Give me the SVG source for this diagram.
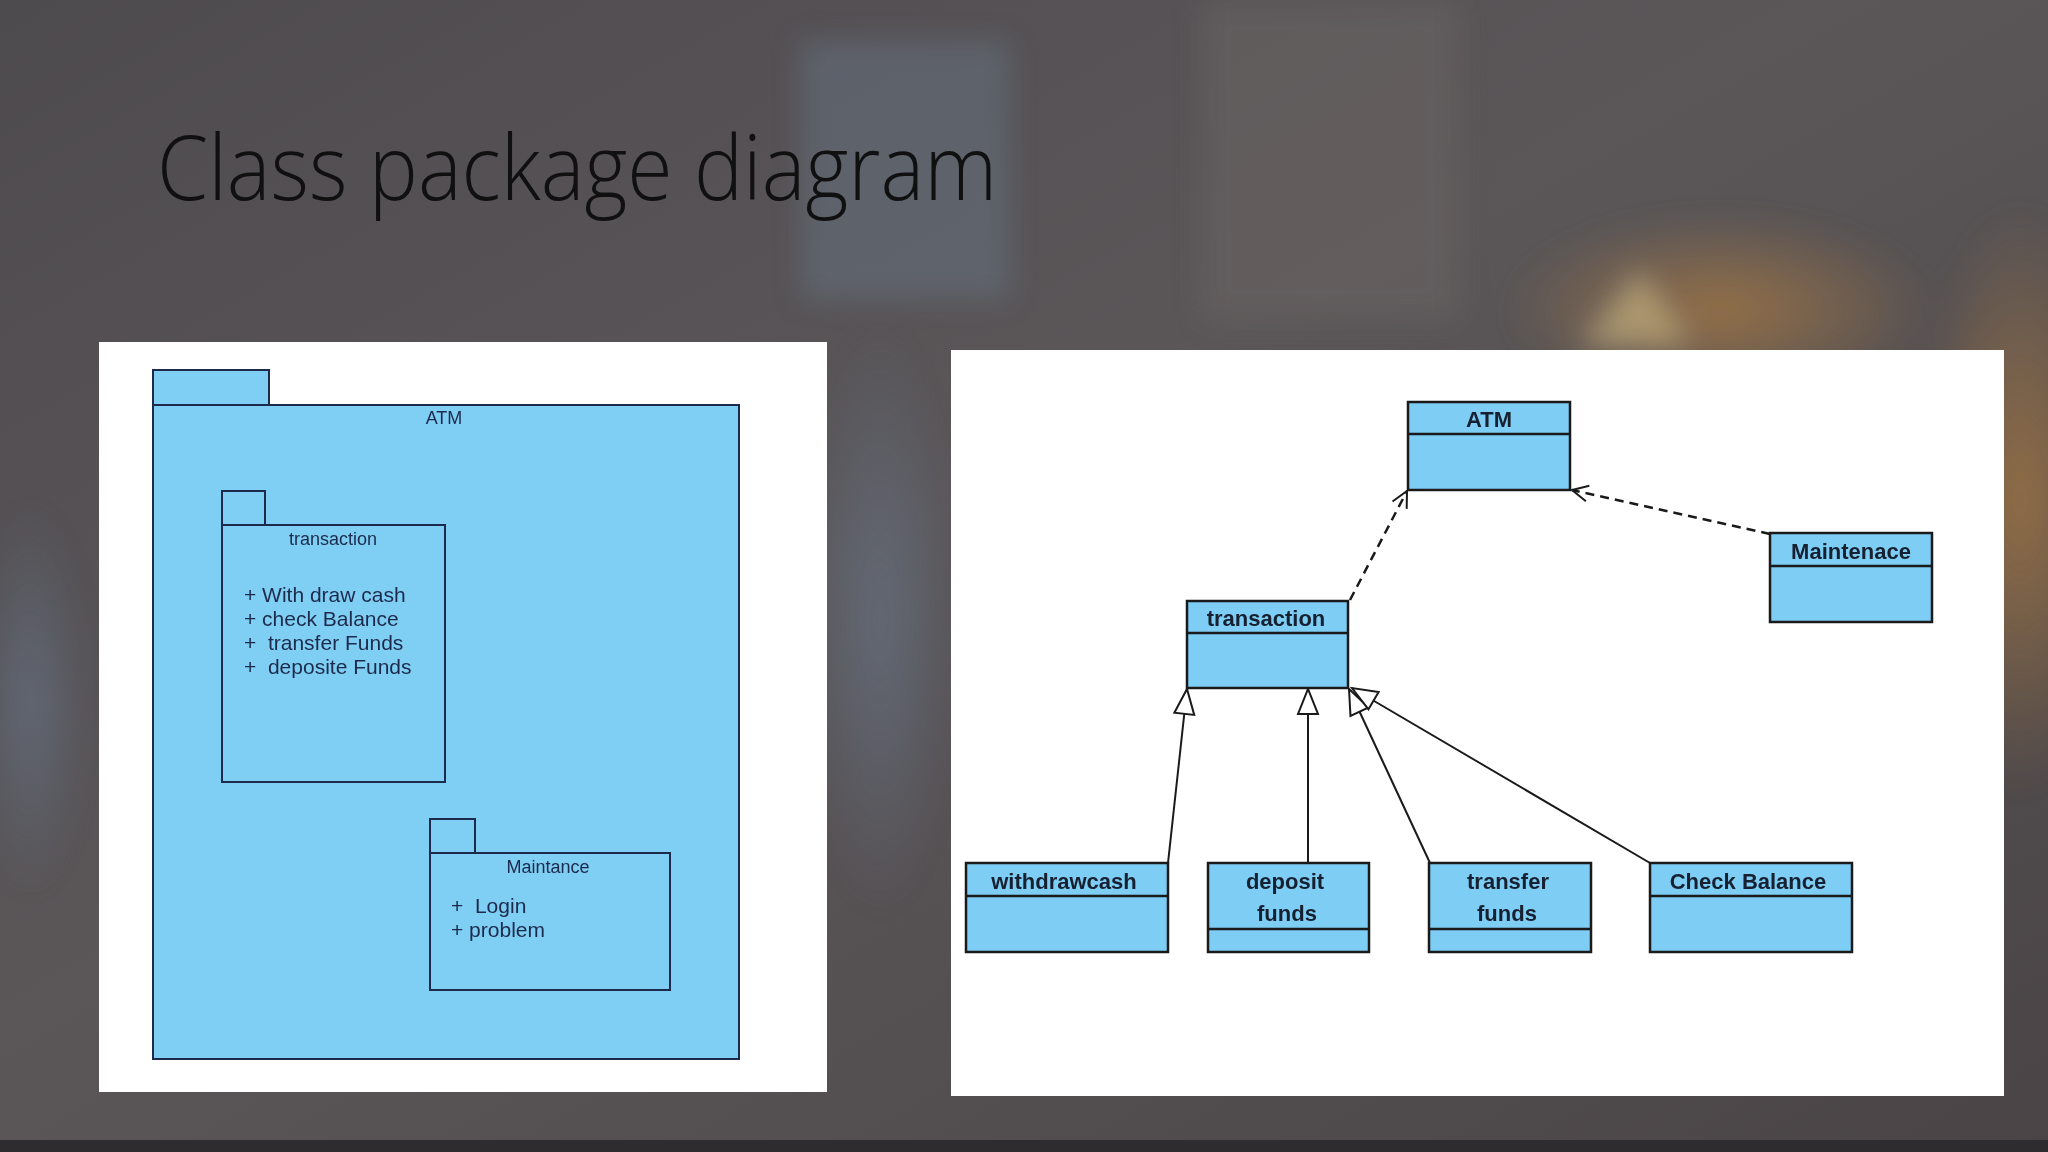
<svg xmlns="http://www.w3.org/2000/svg" width="2048" height="1152" viewBox="0 0 2048 1152">
<defs>
<linearGradient id="bg" x1="0" y1="0" x2="1" y2="1">
<stop offset="0" stop-color="#4e4b4f"/>
<stop offset="0.45" stop-color="#5b5759"/>
<stop offset="1" stop-color="#4a4446"/>
</linearGradient>
<radialGradient id="glowO" cx="0.5" cy="0.5" r="0.5">
<stop offset="0" stop-color="#c8893e" stop-opacity="0.6"/>
<stop offset="1" stop-color="#c8893e" stop-opacity="0"/>
</radialGradient>
<radialGradient id="glowB" cx="0.5" cy="0.5" r="0.5">
<stop offset="0" stop-color="#6a7a90" stop-opacity="0.6"/>
<stop offset="1" stop-color="#6a7a90" stop-opacity="0"/>
</radialGradient>
<filter id="blur" x="-20%" y="-20%" width="140%" height="140%"><feGaussianBlur stdDeviation="14"/></filter>
<marker id="open" markerUnits="userSpaceOnUse" markerWidth="20" markerHeight="20" refX="16" refY="8" orient="auto" overflow="visible">
<path d="M0,0 L16,8 L0,16" fill="none" stroke="#1a1a1a" stroke-width="2"/>
</marker>
<marker id="tri" markerUnits="userSpaceOnUse" markerWidth="28" markerHeight="24" refX="26" refY="11" orient="auto" overflow="visible">
<path d="M1,1 L26,11 L1,21 Z" fill="#ffffff" stroke="#1a1a1a" stroke-width="2"/>
</marker>
<style>
.pkg{fill:#7ecff3;stroke:#1d2a4c;stroke-width:2}
.ptxt{font-family:"Liberation Sans",Arial,sans-serif;font-size:18px;fill:#1d2a4c}
.itxt{font-family:"Liberation Sans",Arial,sans-serif;font-size:21px;fill:#1d2a4c}
.cls{fill:#7dcdf4;stroke:#1a1a1a;stroke-width:2.5}
.div{stroke:#1a1a1a;stroke-width:2.5}
.ctxt{font-family:"Liberation Sans",Arial,sans-serif;font-size:22px;font-weight:bold;fill:#172030;text-anchor:middle}
.dash{stroke:#1a1a1a;stroke-width:2.5;stroke-dasharray:9,6;fill:none;marker-end:url(#open)}
.gen{stroke:#1a1a1a;stroke-width:2;fill:none;marker-end:url(#tri)}
</style>
</defs>

<!-- background -->
<rect x="0" y="0" width="2048" height="1152" fill="url(#bg)"/>
<g filter="url(#blur)" opacity="0.9">
<rect x="800" y="40" width="210" height="260" fill="#66727f" opacity="0.6"/>
<rect x="1200" y="0" width="260" height="320" fill="#6a6264" opacity="0.6"/>
<ellipse cx="1720" cy="310" rx="220" ry="100" fill="url(#glowO)"/>
<ellipse cx="2020" cy="500" rx="110" ry="300" fill="url(#glowO)"/>
<ellipse cx="880" cy="620" rx="80" ry="300" fill="url(#glowB)"/>
<ellipse cx="30" cy="700" rx="60" ry="200" fill="url(#glowB)"/>
<path d="M1580,345 L1640,270 L1690,345 Z" fill="#d8c48a" opacity="0.6"/>
</g>
<rect x="0" y="1140" width="2048" height="12" fill="#2e2c2e"/>

<text x="157" y="200" font-family="'Open Sans','Noto Sans',sans-serif" font-weight="300" font-size="90" fill="#101010" textLength="840" lengthAdjust="spacingAndGlyphs">Class package diagram</text>

<!-- left panel -->
<rect x="99" y="342" width="728" height="750" fill="#ffffff"/>
<g id="pkg-atm">
<rect class="pkg" x="153" y="370" width="116" height="35"/>
<rect class="pkg" x="153" y="405" width="586" height="654"/>
<text class="ptxt" x="444" y="424" text-anchor="middle">ATM</text>
</g>
<g id="pkg-transaction">
<rect class="pkg" x="222" y="491" width="43" height="34"/>
<rect class="pkg" x="222" y="525" width="223" height="257"/>
<text class="ptxt" x="333" y="545" text-anchor="middle">transaction</text>
<text class="itxt" xml:space="preserve" x="244" y="602">+ With draw cash</text>
<text class="itxt" xml:space="preserve" x="244" y="626">+ check Balance</text>
<text class="itxt" xml:space="preserve" x="244" y="650">+  transfer Funds</text>
<text class="itxt" xml:space="preserve" x="244" y="674">+  deposite Funds</text>
</g>
<g id="pkg-maintance">
<rect class="pkg" x="430" y="819" width="45" height="34"/>
<rect class="pkg" x="430" y="853" width="240" height="137"/>
<text class="ptxt" x="548" y="873" text-anchor="middle">Maintance</text>
<text class="itxt" xml:space="preserve" x="451" y="913">+  Login</text>
<text class="itxt" xml:space="preserve" x="451" y="937">+ problem</text>
</g>

<!-- right panel -->
<rect x="951" y="350" width="1053" height="746" fill="#ffffff"/>

<g id="connectors">
<line class="dash" x1="1350" y1="600" x2="1407" y2="491"/>
<line class="dash" x1="1770" y1="534" x2="1572" y2="490"/>
<line class="gen" x1="1168" y1="863" x2="1187" y2="689"/>
<line class="gen" x1="1308" y1="863" x2="1308" y2="689"/>
<line class="gen" x1="1430" y1="863" x2="1349" y2="689"/>
<line class="gen" x1="1650" y1="863" x2="1352" y2="688"/>
</g>

<g id="cls-atm">
<rect class="cls" x="1408" y="402" width="162" height="88"/>
<line class="div" x1="1408" y1="434" x2="1570" y2="434"/>
<text class="ctxt" x="1489" y="427">ATM</text>
</g>
<g id="cls-maintenace">
<rect class="cls" x="1770" y="533" width="162" height="89"/>
<line class="div" x1="1770" y1="566" x2="1932" y2="566"/>
<text class="ctxt" x="1851" y="559">Maintenace</text>
</g>
<g id="cls-transaction">
<rect class="cls" x="1187" y="601" width="161" height="87"/>
<line class="div" x1="1187" y1="633" x2="1348" y2="633"/>
<text class="ctxt" x="1266" y="626">transaction</text>
</g>
<g id="cls-withdrawcash">
<rect class="cls" x="966" y="863" width="202" height="89"/>
<line class="div" x1="966" y1="896" x2="1168" y2="896"/>
<text class="ctxt" x="1064" y="889">withdrawcash</text>
</g>
<g id="cls-deposit">
<rect class="cls" x="1208" y="863" width="161" height="89"/>
<line class="div" x1="1208" y1="929" x2="1369" y2="929"/>
<text class="ctxt" x="1285" y="889">deposit</text>
<text class="ctxt" x="1287" y="921">funds</text>
</g>
<g id="cls-transfer">
<rect class="cls" x="1429" y="863" width="162" height="89"/>
<line class="div" x1="1429" y1="929" x2="1591" y2="929"/>
<text class="ctxt" x="1508" y="889">transfer</text>
<text class="ctxt" x="1507" y="921">funds</text>
</g>
<g id="cls-checkbalance">
<rect class="cls" x="1650" y="863" width="202" height="89"/>
<line class="div" x1="1650" y1="896" x2="1852" y2="896"/>
<text class="ctxt" x="1748" y="889">Check Balance</text>
</g>
</svg>
